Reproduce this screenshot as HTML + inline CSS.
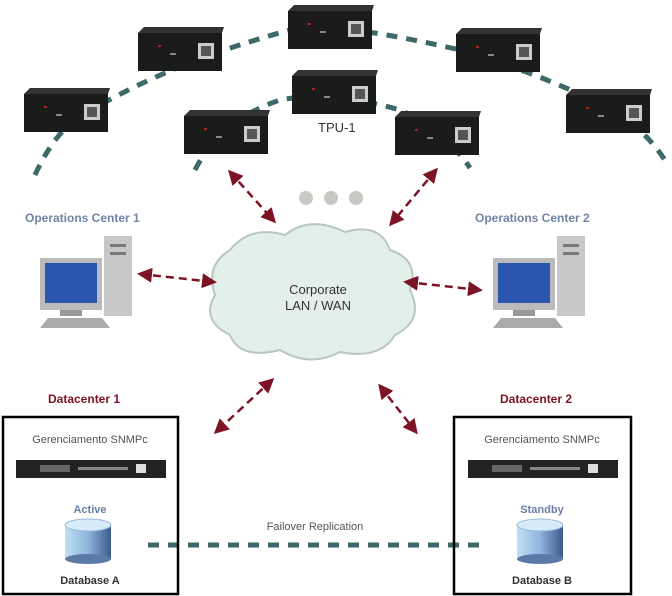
<!DOCTYPE html>
<html><head><meta charset="utf-8"><style>
body{margin:0;background:#fff}
svg{display:block;font-family:"Liberation Sans",sans-serif}
</style></head><body>
<svg width="672" height="596" viewBox="0 0 672 596" xmlns="http://www.w3.org/2000/svg">
<defs>
<marker id="ah" viewBox="0 0 10 10" refX="8" refY="5" markerWidth="6" markerHeight="6" orient="auto-start-reverse"><path d="M0,0 L10,5 L0,10 z" fill="#7d1426"/></marker>
<linearGradient id="cyl" x1="0" x2="1"><stop offset="0" stop-color="#bfe0f5"/><stop offset="0.5" stop-color="#8fb5dc"/><stop offset="1" stop-color="#3b5a8c"/></linearGradient>
<g id="dev"><rect x="0" y="0" width="84" height="38" fill="#1a1c1c"/><polygon points="0,0 6,-6 86,-6 84,0" fill="#333"/><rect x="60" y="10" width="16" height="16" fill="#ccc"/><rect x="63" y="13" width="10" height="10" fill="#555"/><rect x="20" y="12" width="3" height="2" fill="#a22"/><rect x="32" y="20" width="6" height="2" fill="#888"/></g>
<g id="rack"><rect x="0" y="0" width="150" height="18" fill="#222"/><rect x="24" y="5" width="30" height="7" fill="#666"/><rect x="62" y="7" width="50" height="3" fill="#888"/><rect x="120" y="4" width="10" height="9" fill="#ddd"/></g>
<g id="pc"><rect x="0" y="22" width="62" height="52" fill="#bbb"/><rect x="5" y="27" width="52" height="40" fill="#2a56b0"/><rect x="64" y="0" width="28" height="80" fill="#c8c8c8"/><rect x="70" y="8" width="16" height="3" fill="#777"/><rect x="70" y="16" width="16" height="3" fill="#777"/><rect x="20" y="74" width="22" height="6" fill="#999"/><polygon points="8,82 62,82 70,92 0,92" fill="#aaa"/></g>
</defs>
<g fill="none" stroke="#3d6a68" stroke-width="5" stroke-dasharray="11,9">
<path d="M35,175 Q60,120 100,105 Q180,60 290,30 Q330,20 460,50 Q560,80 620,115 Q650,135 668,165"/>
<path d="M195,170 Q220,120 280,100 Q330,90 400,110 Q445,130 470,168"/>
<path d="M148,545 L482,545"/>
</g>
<use href="#dev" x="288" y="11"/>
<use href="#dev" x="138" y="33"/>
<use href="#dev" x="456" y="34"/>
<use href="#dev" x="24" y="94"/>
<use href="#dev" x="566" y="95"/>
<use href="#dev" x="292" y="76"/>
<use href="#dev" x="184" y="116"/>
<use href="#dev" x="395" y="117"/>
<text x="318" y="132" font-size="13" fill="#333">TPU-1</text>
<circle cx="306" cy="198" r="7" fill="#c8c8c4"/><circle cx="331" cy="198" r="7" fill="#c8c8c4"/><circle cx="356" cy="198" r="7" fill="#c8c8c4"/>
<path d="M230,250 Q250,225 285,235 Q310,215 345,232 Q380,222 390,250 Q420,260 410,290 Q425,320 395,335 Q380,360 340,352 Q310,368 280,350 Q240,360 230,335 Q200,320 215,295 Q205,265 230,250 z" fill="#e3efe9" stroke="#b8c8c0" stroke-width="2"/>
<text x="318" y="294" font-size="13" fill="#333" text-anchor="middle">Corporate</text>
<text x="318" y="310" font-size="13" fill="#333" text-anchor="middle">LAN / WAN</text>
<g stroke="#7d1426" stroke-width="2.5" stroke-dasharray="8,5" marker-start="url(#ah)" marker-end="url(#ah)">
<line x1="230" y1="172" x2="274" y2="221"/>
<line x1="436" y1="170" x2="391" y2="224"/>
<line x1="140" y1="274" x2="214" y2="282"/>
<line x1="406" y1="282" x2="480" y2="290"/>
<line x1="272" y1="380" x2="216" y2="432"/>
<line x1="380" y1="386" x2="416" y2="432"/>
</g>
<text x="25" y="222" font-size="12" font-weight="bold" fill="#7383a6">Operations Center 1</text>
<text x="475" y="222" font-size="12" font-weight="bold" fill="#7383a6">Operations Center 2</text>
<use href="#pc" x="40" y="236"/>
<use href="#pc" x="493" y="236"/>
<text x="48" y="403" font-size="12" font-weight="bold" fill="#7d1426">Datacenter 1</text>
<text x="500" y="403" font-size="12" font-weight="bold" fill="#7d1426">Datacenter 2</text>
<rect x="3" y="417" width="175" height="177" fill="none" stroke="#000" stroke-width="2.5"/>
<rect x="454" y="417" width="177" height="177" fill="none" stroke="#000" stroke-width="2.5"/>
<text x="90" y="443" font-size="11" fill="#555" text-anchor="middle">Gerenciamento SNMPc</text>
<text x="542" y="443" font-size="11" fill="#555" text-anchor="middle">Gerenciamento SNMPc</text>
<use href="#rack" x="16" y="460"/>
<use href="#rack" x="468" y="460"/>
<text x="90" y="513" font-size="11" font-weight="bold" fill="#6a7ea6" text-anchor="middle">Active</text>
<text x="542" y="513" font-size="11" font-weight="bold" fill="#6a7ea6" text-anchor="middle">Standby</text>
<g><rect x="65" y="525" width="46" height="34" fill="url(#cyl)"/><ellipse cx="88" cy="559" rx="23" ry="5" fill="#5c7aa6"/><ellipse cx="88" cy="525" rx="23" ry="6" fill="#d6ecf8" stroke="#9bbbd8"/></g>
<g><rect x="517" y="525" width="46" height="34" fill="url(#cyl)"/><ellipse cx="540" cy="559" rx="23" ry="5" fill="#5c7aa6"/><ellipse cx="540" cy="525" rx="23" ry="6" fill="#d6ecf8" stroke="#9bbbd8"/></g>
<text x="90" y="584" font-size="11" font-weight="bold" fill="#333" text-anchor="middle">Database A</text>
<text x="542" y="584" font-size="11" font-weight="bold" fill="#333" text-anchor="middle">Database B</text>
<text x="315" y="530" font-size="11" fill="#555" text-anchor="middle">Failover Replication</text>
</svg>
</body></html>
